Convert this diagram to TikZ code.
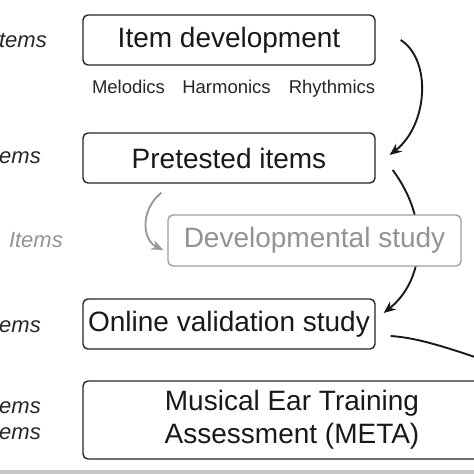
\documentclass[tikz,border=0pt]{standalone}
\usepackage{fontspec}
\setmainfont{Liberation Sans}
\usetikzlibrary{positioning,calc,arrows.meta}

\begin{document}
\begin{tikzpicture}[x=1pt,y=-1pt,
        stage/.style={draw=black!85,line width=1.4pt,rounded corners=5pt,fill=white,
            minimum width=292pt,minimum height=50pt,inner sep=0pt,
            font=\fontsize{28}{33}\selectfont,text=black!90},
        sub/.style={anchor=base,inner sep=0pt,font=\fontsize{18.5}{22}\selectfont,text=black!85},
        count/.style={anchor=base east,inner sep=0pt,font=\fontsize{22}{26}\selectfont\itshape,text=black!85},
        flow/.style={line width=1.9pt,black!90,-{Stealth[length=12pt,width=10pt]}}]
        \useasboundingbox (0,0) rectangle (474,474);
        \clip (0,0) rectangle (474,474);
        % Stages
        \node[stage] (dev) at (229,40) {Item development};
        \node[sub] (mel) at (128.5,93) {Melodics};
        \node[sub] (har) at (226.5,93) {Harmonics};
        \node[sub] (rhy) at (332,93) {Rhythmics};
        \node[stage] (pret) at (229,158) {Pretested items};
        \node[stage] (online) at (229,324) {Online validation study};
        \node[stage,minimum width=418pt,minimum height=78pt,align=center] (meta) at (292,420)
            {Musical Ear Training\\Assessment (META)};
        % Item counts
        \node[count] (n1) at (47,47) {items};
        \node[count] (n2) at (41,163) {items};
        \node[count,text=gray!85] (n3) at (63,247) {Items};
        \node[count] (n4) at (41,332) {items};
        \node[count] (n5) at (41,413) {items};
        \node[count] (n6) at (41,439) {items};
        % Arrows
        \coordinate (a1) at ($(dev.east)+(25,0)$);
        \coordinate (b1) at ($(pret.east)+(14,-3)$);
        \draw[flow] (a1) .. controls (432,60) and (428,125) .. (b1);
        \coordinate (a2) at ($(pret.east)+(17,12)$);
        \coordinate (b2) at ($(online.east)+(8,-11)$);
        \draw[flow] (a2) .. controls (430,220) and (425,280) .. (b2);
        \coordinate (a4) at ($(online.east)+(15,12)$);
        \coordinate (b4) at (530,376);
        \draw[line width=1.9pt,black!90] (a4) .. controls (420,338) and (450,348) .. (b4);
        % Developmental study
        \node[stage,draw=gray!75,text=gray!85,minimum width=293pt,minimum height=51pt] (devst) at (314.5,240.5) {Developmental study};
        \coordinate (a3) at ($(pret.south west)+(79,9)$);
        \draw[flow,gray!80] (a3) .. controls (140,210) and (142,240) .. ($(devst.west|-0,250)+(-4,0)$);
        % Bottom rule
        \fill[gray!45] (0,469.5) rectangle (474,474);
    \end{tikzpicture}
\end{document}
